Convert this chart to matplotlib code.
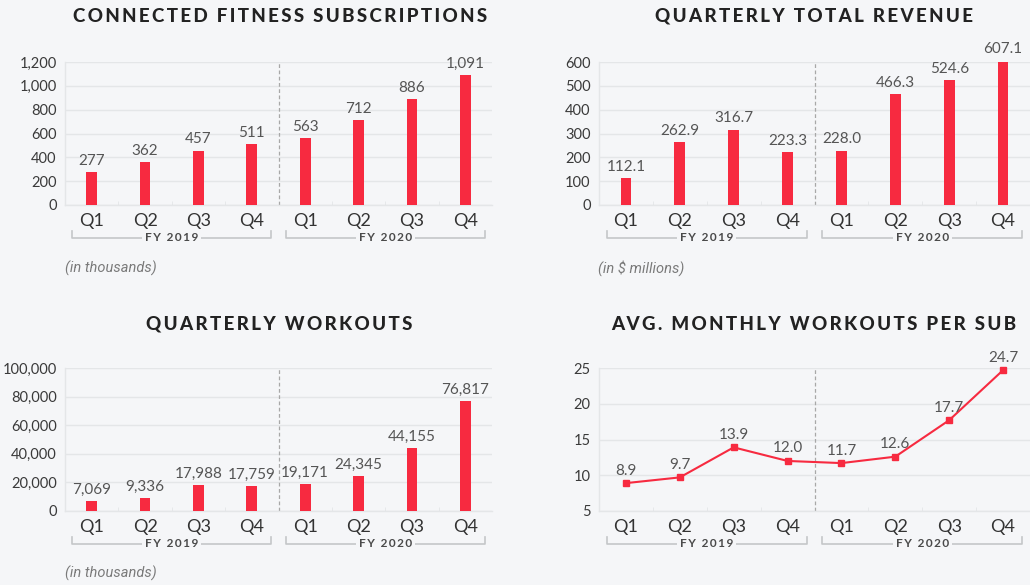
import numpy as np
import matplotlib
matplotlib.use('Agg')
import matplotlib.pyplot as plt
import matplotlib.transforms as mtransforms

plt.rcParams['font.family'] = ['Lato', 'DejaVu Sans']

quarters = ['Q1', 'Q2', 'Q3', 'Q4', 'Q1', 'Q2', 'Q3', 'Q4']
years = ['FY 2019', 'FY 2020']

subs = [277, 362, 457, 511, 563, 712, 886, 1091]
subs_lbl = ['277', '362', '457', '511', '563', '712', '886', '1,091']

revenue = [112.1, 262.9, 316.7, 223.3, 228.0, 466.3, 524.6, 607.1]
revenue_lbl = ['112.1', '262.9', '316.7', '223.3', '228.0', '466.3', '524.6', '607.1']

workouts = [7069, 9336, 17988, 17759, 19171, 24345, 44155, 76817]
workouts_lbl = ['7,069', '9,336', '17,988', '17,759', '19,171', '24,345', '44,155', '76,817']

per_sub = [8.9, 9.7, 13.9, 12.0, 11.7, 12.6, 17.7, 24.7]
per_sub_lbl = ['8.9', '9.7', '13.9', '12.0', '11.7', '12.6', '17.7', '24.7']

BG = '#f5f6f8'
RED = '#f72a40'
GRID = '#e4e6e8'

fig = plt.figure(figsize=(10.3, 5.85), dpi=100, facecolor=BG)
W, H = 1030, 585


def px_axes(x0, y0, x1, y1):
    # pixel box (top-left origin) -> figure axes
    return fig.add_axes([x0 / W, 1 - y1 / H, (x1 - x0) / W, (y1 - y0) / H])


def spaced(s, sp='\u2009'):
    words = s.split(' ')
    return '  '.join(sp.join(w) for w in words)


def style(ax, ticks, fmt, yl):
    ax.set_facecolor(BG)
    ax.set_xlim(-0.5, 7.5)
    ax.set_ylim(*yl)
    ax.set_yticks(ticks)
    ax.set_yticklabels([fmt(t) for t in ticks], fontsize=10.5, color='#3a3a3a')
    ax.set_xticks(range(8))
    ax.set_xticklabels(quarters, fontsize=13, color='#333333')
    ax.set_xticks(np.arange(0.5, 7.5, 1), minor=True)
    ax.tick_params(axis='both', which='major', length=0, pad=6)
    ax.tick_params(axis='x', which='minor', length=3, color=GRID, direction='in')
    ax.grid(axis='y', color=GRID, linewidth=1)
    ax.set_axisbelow(True)
    for s in ['top', 'right']:
        ax.spines[s].set_visible(False)
    for s in ['left', 'bottom']:
        ax.spines[s].set_color(GRID)
        ax.spines[s].set_linewidth(1)
    ax.axvline(3.5, color='#a8a8a8', linestyle=(0, (3, 2)), linewidth=0.9)
    # fiscal year brackets
    tr = mtransforms.blended_transform_factory(ax.transData, ax.transAxes)
    for i, yr in enumerate(years):
        a, b = i * 4 - 0.36, i * 4 + 3.36
        ax.plot([a, a, b, b], [-0.18, -0.23, -0.23, -0.18], color='#c4c6c8',
                linewidth=1.2, transform=tr, clip_on=False)
        ax.text((a + b) / 2, -0.23, spaced(yr, '\u2009'), transform=tr, ha='center',
                va='center', fontsize=8.5, fontweight='bold', color='#4a4a4a',
                bbox=dict(facecolor=BG, edgecolor='none', pad=2))


def title(xc, y, s):
    fig.text(xc / W, 1 - y / H, spaced(s), ha='center', va='center',
             fontsize=13.5, fontweight='black', color='#222222')


def note(x, y, s):
    fig.text(x / W, 1 - y / H, s, fontsize=10.5, style='italic',
             color='#7a7a7a', va='center', family=['Roboto', 'DejaVu Sans'])


def value_labels(ax, vals, lbls, off):
    for i, (v, l) in enumerate(zip(vals, lbls)):
        ax.annotate(l, (i, v), xytext=(0, off), textcoords='offset points',
                    ha='center', va='bottom', fontsize=11, color='#555555',
                    annotation_clip=False)


# connected fitness subscriptions
ax1 = px_axes(65, 62, 492, 205)
ax1.bar(range(8), subs, width=0.2, color=RED, zorder=3)
style(ax1, [0, 200, 400, 600, 800, 1000, 1200], lambda t: f'{t:,}', (0, 1200))
value_labels(ax1, subs, subs_lbl, 3)
title(280, 16, 'CONNECTED FITNESS SUBSCRIPTIONS')
note(65, 268, '(in thousands)')

# quarterly total revenue
ax2 = px_axes(599, 62, 1030, 205)
ax2.bar(range(8), revenue, width=0.2, color=RED, zorder=3)
style(ax2, [0, 100, 200, 300, 400, 500, 600], lambda t: f'{t}', (0, 600))
value_labels(ax2, revenue, revenue_lbl, 3)
title(814, 16, 'QUARTERLY TOTAL REVENUE')
note(598, 268, '(in $ millions)')

# quarterly workouts
ax3 = px_axes(65, 368, 492, 511)
ax3.bar(range(8), workouts, width=0.2, color=RED, zorder=3)
style(ax3, [0, 20000, 40000, 60000, 80000, 100000], lambda t: f'{t:,}', (0, 100000))
value_labels(ax3, workouts, workouts_lbl, 3)
title(279, 324, 'QUARTERLY WORKOUTS')
note(65, 573, '(in thousands)')

# avg monthly workouts per sub
ax4 = px_axes(599, 368, 1030, 511)
ax4.plot(range(8), per_sub, color=RED, linewidth=1.5, marker='s', markersize=4.5,
         zorder=3, clip_on=False)
style(ax4, [5, 10, 15, 20, 25], lambda t: f'{t}', (5, 25))
value_labels(ax4, per_sub, per_sub_lbl, 4)
title(814, 324, 'AVG. MONTHLY WORKOUTS PER SUB')

fig.savefig('out.png', dpi=100, facecolor=BG)
